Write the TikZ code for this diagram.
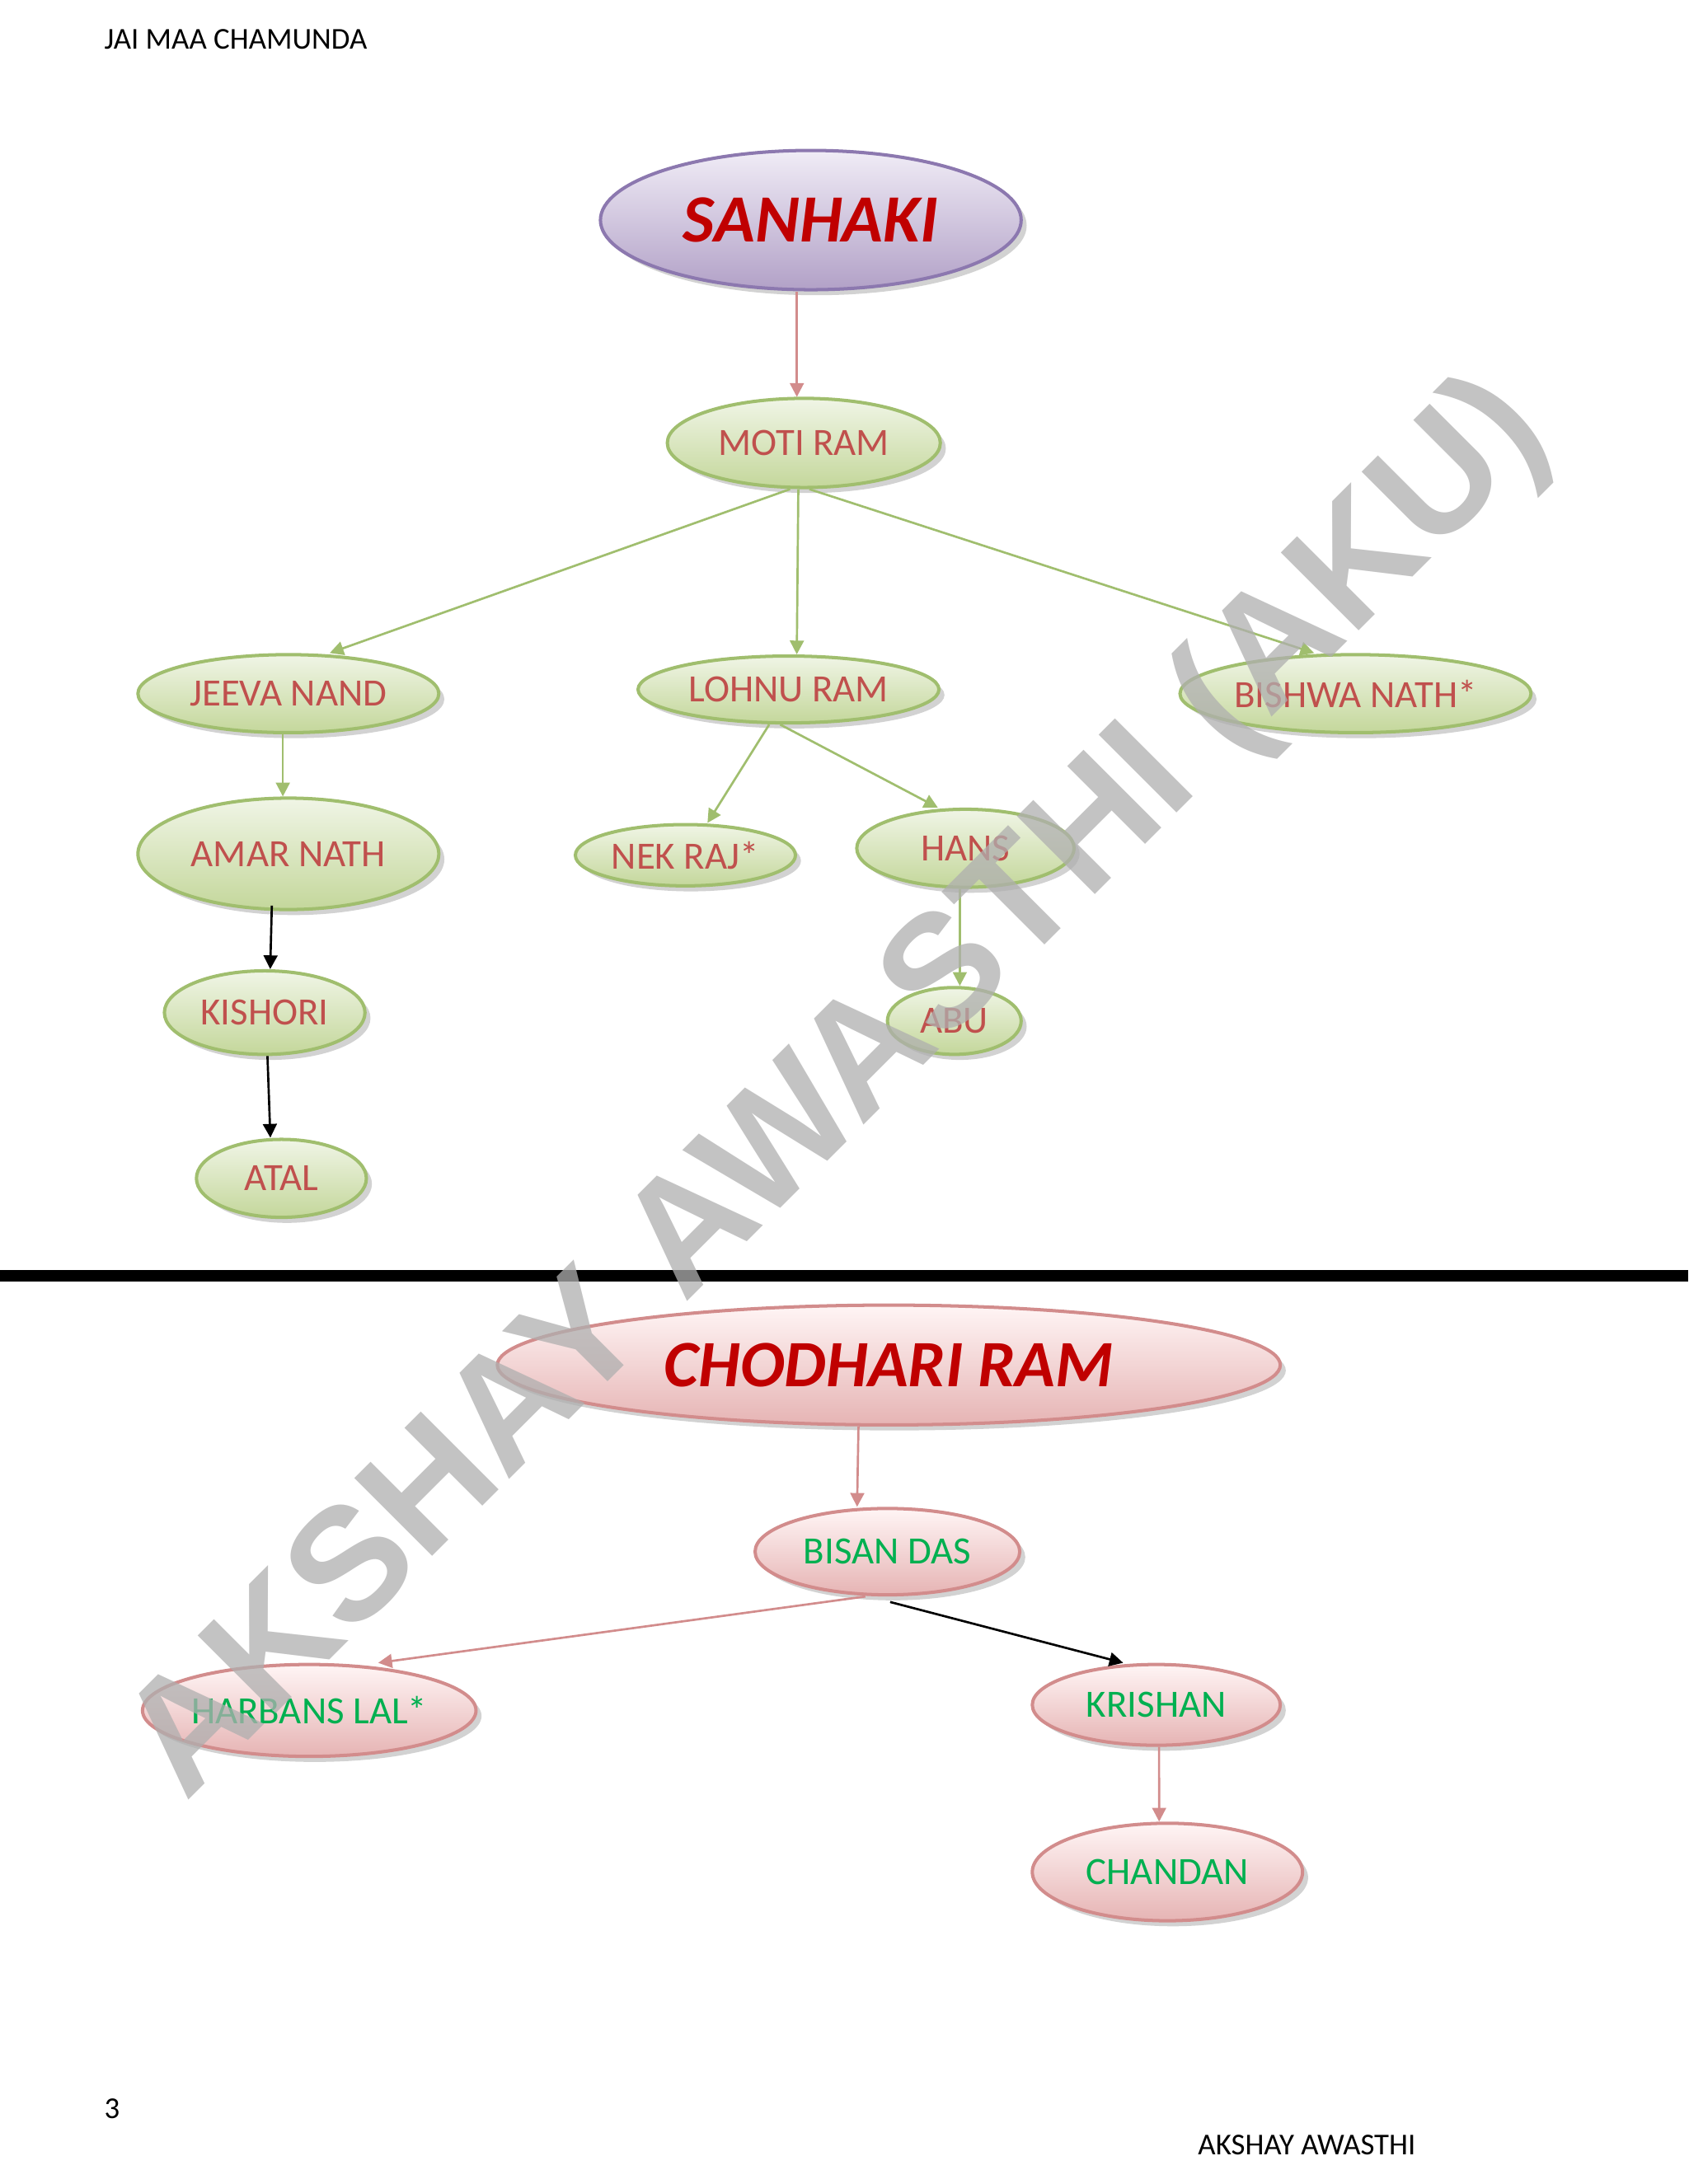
\documentclass[tikz,border=0pt]{standalone}
\usepackage{fontspec}
\setmainfont{Carlito}
\newfontfamily\wmfont{Liberation Sans}
\usetikzlibrary{shapes.geometric,shadows,arrows.meta}
\definecolor{txtr}{RGB}{192,80,77}
\definecolor{txtg}{RGB}{0,176,80}
\definecolor{ttl}{RGB}{192,0,0}
\definecolor{gtop}{RGB}{240,245,230}
\definecolor{gbot}{RGB}{196,215,155}
\definecolor{gbor}{RGB}{160,190,110}
\definecolor{ptop}{RGB}{255,245,245}
\definecolor{pbot}{RGB}{230,180,180}
\definecolor{pbor}{RGB}{210,140,140}
\definecolor{ltop}{RGB}{240,236,246}
\definecolor{lbot}{RGB}{178,161,199}
\definecolor{lbor}{RGB}{140,120,175}
\definecolor{wm}{RGB}{175,175,175}
\tikzset{
 sz/.style 2 args={minimum width=#1*0.505pt, minimum height=#2*0.505pt, inner sep=0pt},
 base/.style={ellipse, line width=1.2pt, drop shadow={opacity=0.35,shadow xshift=2pt,shadow yshift=-2pt}},
 gn/.style={base, draw=gbor, top color=gtop, bottom color=gbot, text=txtr, font=\fontsize{14}{16}\selectfont},
 pn/.style={base, draw=pbor, top color=ptop, bottom color=pbot, text=txtg, font=\fontsize{14}{16}\selectfont},
 ge/.style={draw=gbor, line width=0.8pt, -{Triangle[length=5pt,width=5pt]}},
 pe/.style={draw=pbor, line width=0.8pt, -{Triangle[length=5pt,width=5pt]}},
 be/.style={draw=black, line width=0.8pt, -{Triangle[length=5pt,width=5pt]}},
 hdr/.style={font=\fontsize{11}{12}\selectfont, anchor=west}
}
\begin{document}
\begin{tikzpicture}[x=0.505pt,y=-0.505pt]
\useasboundingbox[fill=white] (0,0) rectangle (1212,1568);
\node[hdr] (h1) at (68,28) {JAI MAA CHAMUNDA};
\node[hdr] (h2) at (68,1514) {3};
\node[hdr] (h3) at (853,1540) {AKSHAY AWASTHI};
% top tree
\node[base, sz={302}{100}, draw=lbor, top color=ltop, bottom color=lbot, text=ttl, font=\fontsize{24.5}{28}\selectfont\bfseries\itshape] (san) at (582,158) {SANHAKI};
\node[gn, sz={196}{64}] (moti) at (577,318) {MOTI RAM};
\node[gn, sz={216}{56}] (jeeva) at (207,498) {JEEVA NAND};
\node[gn, sz={216}{48}] (lohnu) at (566,495) {LOHNU RAM};
\node[gn, sz={252}{56}] (bishwa) at (973,498) {BISHWA NATH*};
\node[gn, sz={216}{80}] (amar) at (207,613) {AMAR NATH};
\node[gn, sz={158}{44}] (nek) at (492,614) {NEK RAJ*};
\node[gn, sz={156}{56}] (hans) at (693,609) {HANS};
\node[gn, sz={144}{60}] (kish) at (190,727) {KISHORI};
\node[gn, sz={96}{48}] (abu) at (685,733) {ABU};
\node[gn, sz={122}{56}] (atal) at (202,846) {ATAL};
\draw[pe] (san.south -| 572,0) -- (572,285);
\draw[ge] ([xshift=-5pt]moti.south) -- ([xshift=15pt]jeeva.north);
\draw[ge] ([xshift=-2pt]moti.south) -- ([xshift=3pt]lohnu.north);
\draw[ge] ([xshift=2pt]moti.south) -- ([xshift=-15pt]bishwa.north);
\draw[ge] ([xshift=-2pt]jeeva.south) -- ([xshift=-2pt]amar.north);
\draw[ge] ([xshift=-7pt]lohnu.south) -- ([xshift=8pt]nek.north);
\draw[ge] ([xshift=-3pt]lohnu.south) -- ([xshift=-10pt]hans.north);
\draw[ge] ([xshift=-2pt]hans.south) -- ([xshift=2pt]abu.north);
\draw[be] ([xshift=-6pt,yshift=2pt]amar.south) -- ([xshift=2pt]kish.north);
\draw[be] ([xshift=1pt]kish.south) -- ([xshift=-4pt]atal.north);
% separator
\draw[line width=4pt] (0,916) -- (1212,916);
% bottom tree
\node[base, sz={562}{86}, draw=pbor, top color=ptop, bottom color=pbot, text=ttl, font=\fontsize{24}{28}\selectfont\bfseries\itshape] (chod) at (638,980) {CHODHARI RAM};
\node[pn, sz={190}{62}] (bisan) at (637,1114) {BISAN DAS};
\node[pn, sz={236}{66}] (harb) at (222,1228) {HARBANS LAL*};
\node[pn, sz={178}{58}] (kri) at (830,1224) {KRISHAN};
\node[pn, sz={194}{70}] (chan) at (838,1344) {CHANDAN};
\draw[pe] ([xshift=-11pt]chod.south) -- ([xshift=-11pt]bisan.north);
\draw[pe] ([xshift=-8pt]bisan.south) -- ([xshift=25pt]harb.north);
\draw[be] ([xshift=1pt,yshift=-2pt]bisan.south) -- ([xshift=-12pt]kri.north);
\draw[pe] ([xshift=1pt]kri.south) -- ([xshift=-3pt]chan.north);
% watermark
\node[rotate=45, text=wm, opacity=0.75, font=\fontsize{58}{60}\selectfont\wmfont\bfseries] (wmk) at (603,783) {AKSHAY AWASTHI (AKU)};
\end{tikzpicture}
\end{document}
